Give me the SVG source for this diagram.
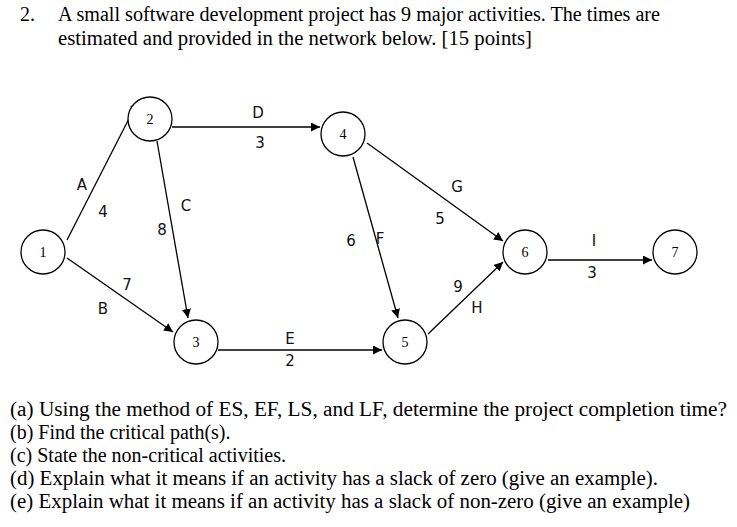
<svg xmlns="http://www.w3.org/2000/svg" width="737" height="527" viewBox="0 0 737 527">
<style>
.t{font-family:"Liberation Serif",serif;font-size:20px;fill:#000}
.n circle{fill:#fff;stroke:#000;stroke-width:1.3}
.n text{font-family:"Liberation Serif",serif;font-size:14px;text-anchor:middle}
.e line{stroke:#000;stroke-width:1.3;marker-end:url(#a)}
.h{font-family:"DejaVu Sans",sans-serif;font-size:15px;text-anchor:middle;fill:#111}
</style>
<defs><marker id="a" viewBox="0 0 10 10" refX="10" refY="5" markerWidth="9" markerHeight="9" markerUnits="userSpaceOnUse" orient="auto"><path d="M0,0L10,5L0,10z"/></marker></defs>
<rect width="737" height="527" fill="#fff"/>
<text class="t" x="20" y="21">2.</text>
<text class="t" x="58" y="21" textLength="602" lengthAdjust="spacingAndGlyphs">A small software development project has 9 major activities. The times are</text>
<text class="t" x="58" y="45" textLength="474" lengthAdjust="spacingAndGlyphs">estimated and provided in the network below. [15 points]</text>
<g id="connectors" class="e">
<line x1="67" y1="240" x2="138" y2="101"/>
<line x1="172" y1="127" x2="320" y2="127"/>
<line x1="157" y1="141" x2="188" y2="318"/>
<line x1="67" y1="258" x2="173" y2="332"/>
<line x1="367" y1="143" x2="503" y2="241"/>
<line x1="353" y1="157" x2="398" y2="318"/>
<line x1="218" y1="350" x2="382" y2="350"/>
<line x1="428" y1="334" x2="503" y2="262"/>
<line x1="548" y1="260" x2="652" y2="260"/>
</g>
<g id="n1" class="n"><circle cx="43" cy="252" r="22"/><text x="43" y="257">1</text></g>
<g id="n2" class="n"><circle cx="150" cy="119" r="22"/><text x="150" y="124">2</text></g>
<g id="n3" class="n"><circle cx="196" cy="342" r="22"/><text x="196" y="347">3</text></g>
<g id="n4" class="n"><circle cx="343" cy="134" r="22"/><text x="343" y="139">4</text></g>
<g id="n5" class="n"><circle cx="405" cy="342" r="22"/><text x="405" y="347">5</text></g>
<g id="n6" class="n"><circle cx="525" cy="252" r="22"/><text x="525" y="257">6</text></g>
<g id="n7" class="n"><circle cx="675" cy="252" r="22"/><text x="675" y="257">7</text></g>
<g id="labels">
<text class="h" x="258" y="118">D</text><text class="h" x="260" y="148">3</text>
<text class="h" x="82" y="190">A</text><text class="h" x="103" y="217">4</text>
<text class="h" x="186" y="211">C</text><text class="h" x="162" y="235">8</text>
<text class="h" x="103" y="314">B</text><text class="h" x="127" y="290">7</text>
<text class="h" x="290" y="344">E</text><text class="h" x="290" y="366">2</text>
<text class="h" x="351" y="246">6</text><text class="h" x="380" y="244">F</text>
<text class="h" x="457" y="192">G</text><text class="h" x="440" y="224">5</text>
<text class="h" x="458" y="292">9</text><text class="h" x="477" y="313">H</text>
<text class="h" x="594" y="246">I</text><text class="h" x="592" y="278">3</text>
</g>
<text class="t" x="10" y="416" textLength="717" lengthAdjust="spacingAndGlyphs">(a) Using the method of ES, EF, LS, and LF, determine the project completion time?</text>
<text class="t" x="10" y="439">(b) Find the critical path(s).</text>
<text class="t" x="10" y="462">(c) State the non-critical activities.</text>
<text class="t" x="10" y="485" textLength="648" lengthAdjust="spacingAndGlyphs">(d) Explain what it means if an activity has a slack of zero (give an example).</text>
<text class="t" x="10" y="508" textLength="680" lengthAdjust="spacingAndGlyphs">(e) Explain what it means if an activity has a slack of non-zero (give an example)</text>
</svg>
